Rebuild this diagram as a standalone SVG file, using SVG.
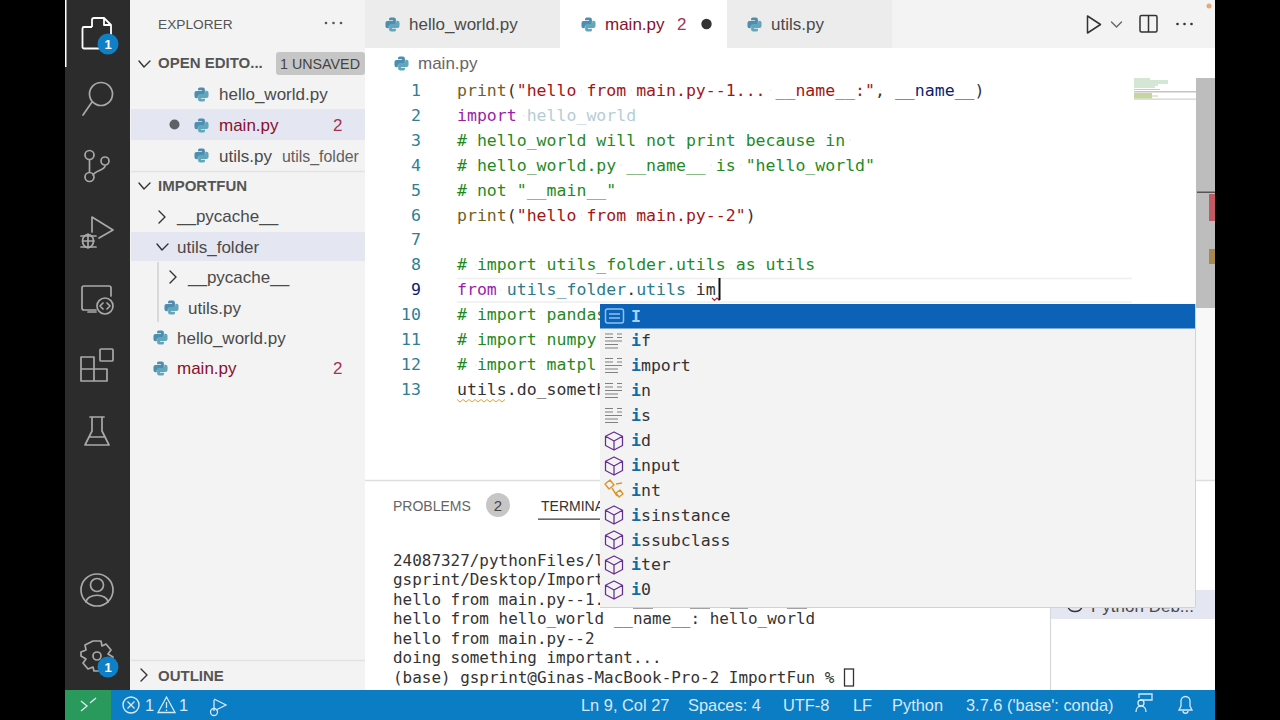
<svg xmlns="http://www.w3.org/2000/svg" width="1280" height="720" viewBox="0 0 1280 720">
<style>
text{white-space:pre}
.ui{font-family:"Liberation Sans",Arial,sans-serif;font-size:17px;fill:#4a4a4a}
.b{font-weight:700;font-size:15px;fill:#555}
.err{fill:#8a0f2e}
.num{fill:#a4324f}
.code{font-family:"DejaVu Sans Mono","Liberation Mono",monospace;font-size:16.55px;fill:#333}
.ln{text-anchor:end;fill:#2d7f95}
.cm{fill:#1f8a1f}
.str{fill:#a31515}
.fn{fill:#70601f}
.kw{fill:#9a1fa8}
.var{fill:#0a1f70}
.mod{fill:#2a7a8a}
.term{font-family:"DejaVu Sans Mono","Liberation Mono",monospace;font-size:15.95px;fill:#333}
.st{font-family:"Liberation Sans",Arial,sans-serif;font-size:16.4px;fill:#d6e9f6}
.i{stroke:#a9a9a9;stroke-width:1.7;fill:none;stroke-linecap:round;stroke-linejoin:round}
.d{stroke:#333;stroke-width:1.4;fill:none;stroke-linecap:round;stroke-linejoin:round}
.h{fill:#0f6cab;font-weight:700}
.badge{font-family:"Liberation Sans",Arial,sans-serif;font-size:13px;font-weight:700;fill:#fff;text-anchor:middle}
</style>
<defs>
<symbol id="py" viewBox="-8 -8 16 16" overflow="visible">
<path fill="#4c8db0" d="M-2-7.5h3.4a2.2 2.2 0 0 1 2.2 2.2V-1.4a1.9 1.9 0 0 1-1.9 1.9H-2a2 2 0 0 0-2 2V4H-5.3A2.2 2.2 0 0 1-7.5 1.8V-1.5A2.2 2.2 0 0 1-5.3-3.7H.6V-4.6H-3.7V-5.8A1.7 1.7 0 0 1-2-7.5Z"/>
<path fill="#62a6bb" d="M2 7.5H-1.4A2.2 2.2 0 0 1-3.6 5.3V1.4A1.9 1.9 0 0 1-1.7-.5H2a2 2 0 0 0 2-2V-4H5.3A2.2 2.2 0 0 1 7.5-1.8V1.5A2.2 2.2 0 0 1 5.3 3.7H-.6V4.6H3.7V5.8A1.7 1.7 0 0 1 2 7.5Z"/>
</symbol>
<g id="kwi" fill="none" stroke="#808080" stroke-width="1.1"><path d="M0-7H8M0-3.5H8M0 0H17M0 3.5H13M0 7H13M12-3.5H17M12-7H17"/></g>
<g id="cube" fill="none" stroke="#652d90" stroke-width="1.25" stroke-linejoin="round"><path d="M0-9 8.500-4.800V4.500L0 9-8.500 4.500V-4.800ZM-8.500-4.800 0 0 8.500-4.800M0 0V9"/></g>
</defs>

<rect id="bg" width="1280" height="720" fill="#000"/>
<g id="activity-bar">
<rect x="65" width="65" height="690" fill="#2c2c2c"/>
<rect x="65" width="1.5" height="67" fill="#fff"/>
<path d="M92 27V20a2 2 0 0 1 2-2H104L111 25V40a2 2 0 0 1-2 2H100M104 18V25H111M92 27H84a1.5 1.5 0 0 0-1.5 1.5V47a1.5 1.5 0 0 0 1.5 1.5H100" fill="none" stroke="#fff" stroke-width="1.8" stroke-linejoin="round"/>
<circle cx="108" cy="44" r="10.5" fill="#0f7fc6"/><text class="badge" x="108" y="49">1</text>
<path class="i" d="M83 115 92 102"/><circle class="i" cx="101" cy="94" r="11.5"/>
<path class="i" d="M89.500 160V172M105 166C105 170 96 170 93 175"/><circle class="i" cx="89.500" cy="155" r="4.500"/><circle class="i" cx="105" cy="161" r="4"/><circle class="i" cx="89.500" cy="177" r="4.500"/>
<path class="i" d="M92 232V217L113 230 99 238"/><path class="i" d="M81 236H96M81 247H96M83 241H94M88 234V248"/><ellipse class="i" cx="88" cy="241" rx="5.500" ry="6.500"/>
<path class="i" d="M96 310H84a2 2 0 0 1-2-2V288a2 2 0 0 1 2-2H109a2 2 0 0 1 2 2V296M88 312H96"/><circle class="i" cx="105" cy="306" r="8"/><path class="i" stroke-width="1.2" d="M103 303 100 306 103 309M107 303 110 306 107 309"/>
<path class="i" d="M81 357H94V381H81ZM81 369H107V381H94"/><rect class="i" x="100" y="349" width="13" height="12" rx="1"/>
<path class="i" d="M90 417H104M92 417V431L85 445H109L102 431V417M89 437H105"/>
<circle class="i" cx="97" cy="590" r="16"/><circle class="i" cx="97" cy="585" r="6.500"/><path class="i" d="M86 602C87 593 107 593 108 602"/>
<path class="i" d="M93 641H101L102 646 106 644 111 650 108 654 113 657 111 663 100 671H94L93 667 88 669 83 663 86 659 81 656V652L86 650 85 645 89 643Z"/><circle class="i" cx="97" cy="656" r="4"/>
<circle cx="108" cy="667" r="10.500" fill="#0f7fc6"/><text class="badge" x="108" y="672">1</text>
</g>

<g id="sidebar">
<rect x="130" width="235" height="690" fill="#f3f3f3"/>
<rect x="131" y="109" width="234" height="31" fill="#e4e6f1"/>
<rect x="131" y="232" width="234" height="29" fill="#e4e6f1"/>
<path d="M131 171.500H365M131 660.500H365" stroke="#e2e2e2" stroke-width="1.500"/>
<text class="ui" x="158" y="29" style="font-size:13.700px;fill:#555">EXPLORER</text>
<g fill="#555"><circle cx="326" cy="23" r="1.300"/><circle cx="333.500" cy="23" r="1.300"/><circle cx="341" cy="23" r="1.300"/></g>
<path class="d" d="M139 61 144 67 150 61"/>
<text class="ui b" x="158" y="68">OPEN EDITO...</text>
<rect x="276" y="52" width="89" height="23" rx="3" fill="#c6c6c6"/>
<text class="ui" x="280" y="69" style="font-size:14.300px;fill:#444">1 UNSAVED</text>
<use href="#py" x="194" y="87" width="15" height="15"/>
<text class="ui" x="219" y="100">hello_world.py</text>
<circle cx="174.500" cy="124.500" r="5" fill="#5f6166"/>
<use href="#py" x="194" y="118" width="15" height="15"/>
<text class="ui err" x="219" y="131">main.py</text>
<text class="ui num" x="333" y="131">2</text>
<use href="#py" x="194" y="148" width="15" height="15"/>
<text class="ui" x="219" y="161.500">utils.py</text>
<text class="ui" x="282" y="161.500" style="font-size:15.900px;fill:#5f5f5f">utils_folder</text>
<path class="d" d="M139 183 144 189 150 183"/>
<text class="ui b" x="158" y="191">IMPORTFUN</text>
<path class="d" d="M159 211 165 217 159 223"/>
<text class="ui" x="177" y="221.500">__pycache__</text>
<path class="d" d="M157 244 162 250 168 244"/>
<text class="ui" x="177" y="252.500">utils_folder</text>
<path d="M158 262V322" stroke="#c8c8c8" stroke-width="1.200"/>
<path class="d" d="M170 271 176 277 170 283"/>
<text class="ui" x="188" y="283">__pycache__</text>
<use href="#py" x="164" y="300" width="15" height="15"/>
<text class="ui" x="188" y="313.500">utils.py</text>
<use href="#py" x="153" y="330" width="15" height="15"/>
<text class="ui" x="177" y="344">hello_world.py</text>
<use href="#py" x="153" y="361" width="15" height="15"/>
<text class="ui err" x="177" y="374">main.py</text>
<text class="ui num" x="333" y="374">2</text>
<path class="d" d="M141 669 147 675 141 681"/>
<text class="ui b" x="158" y="680.500">OUTLINE</text>
</g>

<g id="tabs">
<rect x="365" width="850" height="48" fill="#f3f3f3"/>
<rect x="365" width="195" height="48" fill="#ececec"/>
<rect x="560" width="167" height="48" fill="#fff"/>
<rect x="727" width="165" height="48" fill="#ececec"/>
<use href="#py" x="385" y="17" width="15" height="15"/>
<text class="ui" x="409" y="30">hello_world.py</text>
<use href="#py" x="581" y="17" width="15" height="15"/>
<text class="ui err" x="605" y="30">main.py</text>
<text class="ui num" x="677" y="30">2</text>
<circle cx="706.500" cy="24" r="5.200" fill="#333"/>
<use href="#py" x="747" y="17" width="15" height="15"/>
<text class="ui" x="771" y="30">utils.py</text>
<path d="M1087.500 16V33L1100.500 24.500Z" fill="none" stroke="#333" stroke-width="1.500" stroke-linejoin="round"/>
<path class="d" d="M1111.500 22 1116.500 27 1121.500 22" style="stroke:#666"/>
<rect x="1140" y="15.500" width="17" height="16.500" rx="1.500" fill="none" stroke="#333" stroke-width="1.500"/><path d="M1148.500 15.500V32" stroke="#333" stroke-width="1.500"/>
<g fill="#333"><circle cx="1177.500" cy="24" r="1.300"/><circle cx="1184.500" cy="24" r="1.300"/><circle cx="1191.500" cy="24" r="1.300"/></g>
<circle cx="1209" cy="6" r="2.500" fill="#e8a878"/>
</g>

<g id="editor">
<rect x="365" y="48" width="850" height="432" fill="#fff"/>
<use href="#py" x="394" y="56" width="15" height="15"/>
<text class="ui" x="418" y="69" style="fill:#666">main.py</text>
<path d="M457 278.500H1132M457 302H1132" stroke="#eeeeee" stroke-width="1.500"/>
<g class="code">
<text class="code ln" x="421" y="96">1</text>
<text class="code ln" x="421" y="120.900">2</text>
<text class="code ln" x="421" y="145.800">3</text>
<text class="code ln" x="421" y="170.700">4</text>
<text class="code ln" x="421" y="195.600">5</text>
<text class="code ln" x="421" y="220.500">6</text>
<text class="code ln" x="421" y="245.400">7</text>
<text class="code ln" x="421" y="270.300">8</text>
<text class="code ln" x="421" y="295.200" style="fill:#0a1f70">9</text>
<text class="code ln" x="421" y="320.100">10</text>
<text class="code ln" x="421" y="345">11</text>
<text class="code ln" x="421" y="369.900">12</text>
<text class="code ln" x="421" y="394.800">13</text>
<text class="code" x="457" y="96"><tspan class="fn">print</tspan>(<tspan class="str">"hello from main.py--1... __name__:"</tspan>, <tspan class="var">__name__</tspan>)</text>
<text class="code" x="457" y="120.900"><tspan class="kw">import</tspan> <tspan style="fill:#b5cdd6">hello_world</tspan></text>
<text class="code cm" x="457" y="145.800"># hello_world will not print because in </text>
<text class="code cm" x="457" y="170.700"># hello_world.py __name__ is "hello_world"</text>
<text class="code cm" x="457" y="195.600"># not "__main__"</text>
<text class="code" x="457" y="220.500"><tspan class="fn">print</tspan>(<tspan class="str">"hello from main.py--2"</tspan>)</text>
<text class="code cm" x="457" y="270.300"># import utils_folder.utils as utils</text>
<text class="code" x="457" y="295.200"><tspan class="kw">from</tspan> <tspan class="mod">utils_folder</tspan>.<tspan class="mod">utils</tspan> im</text>
<text class="code cm" x="457" y="320.100"># import pandas</text>
<text class="code cm" x="457" y="345"># import numpy</text>
<text class="code cm" x="457" y="369.900"># import matpl</text>
<text class="code" x="457" y="394.800">utils.do_someth</text>
</g>
<path id="whitespace" fill="none" stroke="#cfcfcf" stroke-width="1.200" stroke-linecap="round" d="M581.500 90h.01M631.300 90h.01M770.700 90h.01M880.200 90h.01M523.700 115.500h.01M476 140h.01M596 140h.01M646 140h.01M685.700 140h.01M745.500 140h.01M825 140h.01M850 140h.01M476 165h.01M621 165h.01M711 165h.01M740.700 165h.01M476 190h.01M506 190h.01M581.500 215h.01M631.300 215h.01M476 265h.01M541.700 265h.01M731 265h.01M760.700 265h.01M501 290h.01M691 290h.01M476 315h.01M541.700 315h.01M476 340h.01M541.700 340h.01M476 365h.01M541.700 365h.01"/>
<path fill="none" stroke="#d9a53a" stroke-width="1" d="M457 399.500l3 2.500 3-2.500 3 2.500 3-2.500 3 2.500 3-2.500 3 2.500 3-2.500 3 2.500 3-2.500 3 2.500 3-2.500 3 2.500 3-2.500 3 2.500 3-2.500"/>
<path fill="none" stroke="#b3263f" stroke-width="1.200" d="M712 298l2.500 2.500 2.500-2.500 2.500 2.500"/>
<rect x="718.500" y="278" width="2" height="22" fill="#111"/>
<g id="minimap" stroke-width="1">
<path d="M1134 79H1150M1134 81H1168M1134 83H1168M1134 85H1158M1134 87H1155" stroke="#a9cfa9" fill="none"/>
<path d="M1134 89.500H1160M1134 96H1158M1134 98H1152" stroke="#c9d39a" fill="none"/>
<rect x="1134" y="91" width="62" height="1.500" fill="#c4c4c4"/><rect x="1134" y="98.500" width="62" height="1.200" fill="#cfcfcf"/>
<rect x="1134" y="93" width="18" height="5" fill="#c3d99b"/>
</g>
<rect x="1196" y="78" width="19" height="230" fill="#bdbdbd"/>
<rect x="1196" y="308" width="19" height="172" fill="#f8f8f8"/>
<rect x="1197" y="191.500" width="18" height="1.500" fill="#555"/>
<rect x="1209" y="194" width="6" height="27" fill="#c25a64"/>
<rect x="1209" y="249" width="6" height="15" fill="#a8884c"/>
</g>

<g id="panel">
<rect x="365" y="480" width="850" height="210" fill="#fff"/>
<path d="M365 480.500H1215" stroke="#dedede" stroke-width="1.500"/>
<path d="M1050.500 480V690" stroke="#d8d8d8" stroke-width="1.200"/>
<rect x="1051" y="590" width="164" height="29" fill="#e4e6f1"/>
<text class="ui" x="393" y="511" style="font-size:14px;fill:#666">PROBLEMS</text>
<circle cx="498" cy="505" r="12" fill="#c6c6c6"/>
<text class="ui" x="498" y="510.500" text-anchor="middle" style="font-size:15px;fill:#444">2</text>
<text class="ui" x="541" y="511" style="font-size:14px;fill:#333">TERMINAL</text>
<rect x="538" y="518.500" width="65" height="1.300" fill="#444"/>
<text class="term" x="393" y="565.500">24087327/pythonFiles/l</text>
<text class="term" x="393" y="585">gsprint/Desktop/Import</text>
<text class="term" x="393" y="604.500">hello from main.py--1.</text>
<path d="M633 608H653M690 608H710M730 608H748M787 608H807" stroke="#444" stroke-width="1.100" fill="none"/>
<text class="term" x="393" y="624">hello from hello_world __name__: hello_world</text>
<text class="term" x="393" y="643.500">hello from main.py--2</text>
<text class="term" x="393" y="663">doing something important...</text>
<text class="term" x="393" y="682.500">(base) gsprint@Ginas-MacBook-Pro-2 ImportFun %</text>
<rect x="844.500" y="669" width="9" height="17" fill="none" stroke="#333" stroke-width="1.300"/>
<path class="d" d="M1068 607C1070 613 1080 613 1082 607"/>
<text class="ui" x="1091" y="612">Python Deb...</text>
</g>

<g id="suggest">
<rect x="600" y="304" width="595" height="303" fill="#f3f3f3"/>
<path d="M600 607.500H1195M1195.500 304V607" stroke="#d2d2d2" stroke-width="1"/>
<rect x="600" y="304" width="595" height="24.500" fill="#0b62b6"/>
<rect x="605.500" y="309" width="18" height="14" rx="2" fill="none" stroke="#8cc4f0" stroke-width="1.500"/><path d="M609 314H620M609 318H620" stroke="#8cc4f0" stroke-width="1.300"/>
<use href="#kwi" x="605" y="341"/><use href="#kwi" x="605" y="365.500"/><use href="#kwi" x="605" y="390.500"/><use href="#kwi" x="605" y="415.500"/>
<use href="#cube" x="614" y="441"/><use href="#cube" x="614" y="466"/>
<path d="M605 484 610 480 614 485 609 489ZM616 493 620 490 623 494 619 497ZM616 484 622 483M612 488 617 496" fill="none" stroke="#d9982f" stroke-width="1.500" stroke-linejoin="round"/>
<use href="#cube" x="614" y="515"/><use href="#cube" x="614" y="540"/><use href="#cube" x="614" y="565"/><use href="#cube" x="614" y="590"/>
<text class="code" x="631" y="321.500" style="font-weight:700;fill:#a8d4f5">I</text>
<text class="code" x="631" y="346"><tspan class="h">i</tspan>f</text>
<text class="code" x="631" y="371"><tspan class="h">i</tspan>mport</text>
<text class="code" x="631" y="396"><tspan class="h">i</tspan>n</text>
<text class="code" x="631" y="421"><tspan class="h">i</tspan>s</text>
<text class="code" x="631" y="446"><tspan class="h">i</tspan>d</text>
<text class="code" x="631" y="471"><tspan class="h">i</tspan>nput</text>
<text class="code" x="631" y="495.500"><tspan class="h">i</tspan>nt</text>
<text class="code" x="631" y="520.500"><tspan class="h">i</tspan>sinstance</text>
<text class="code" x="631" y="545.500"><tspan class="h">i</tspan>ssubclass</text>
<text class="code" x="631" y="570"><tspan class="h">i</tspan>ter</text>
<text class="code" x="631" y="595"><tspan class="h">i</tspan>0</text>
</g>

<g id="statusbar">
<rect x="65" y="690" width="1150" height="30" fill="#0b7dc4"/>
<rect x="65" y="690" width="46" height="30" fill="#2a9a5c"/>
<path d="M81 701 87 706 81 711M96 698 90 703" fill="none" stroke="#d6e9f6" stroke-width="1.400"/>
<circle cx="131" cy="705" r="8" fill="none" stroke="#d6e9f6" stroke-width="1.400"/><path d="M127.500 701.500 134.500 708.500M134.500 701.500 127.500 708.500" stroke="#d6e9f6" stroke-width="1.300"/>
<text class="st" x="145" y="711">1</text>
<path d="M166.500 697 175 712.500H158ZM166.500 702V708M166.500 709.500V711" fill="none" stroke="#d6e9f6" stroke-width="1.300"/>
<text class="st" x="179" y="711">1</text>
<path d="M214 700V711M214 699 226 705 216 710" fill="none" stroke="#d6e9f6" stroke-width="1.300"/><circle cx="214" cy="712" r="3.500" fill="none" stroke="#d6e9f6" stroke-width="1.300"/>
<text class="st" x="581" y="711">Ln 9, Col 27</text>
<text class="st" x="688" y="711">Spaces: 4</text>
<text class="st" x="783" y="711">UTF-8</text>
<text class="st" x="853" y="711">LF</text>
<text class="st" x="892" y="711">Python</text>
<text class="st" x="966" y="711">3.7.6 ('base': conda)</text>
<path d="M1140 700H1152V694H1139V698M1136 712C1136 704 1146 704 1146 712" fill="none" stroke="#d6e9f6" stroke-width="1.300"/><circle cx="1141" cy="703" r="3" fill="none" stroke="#d6e9f6" stroke-width="1.300"/>
<path d="M1179 710H1192L1190 706V701A4.500 4.500 0 0 0 1181 701V706ZM1183 711C1183 714 1188 714 1188 711" fill="none" stroke="#d6e9f6" stroke-width="1.300"/>
</g>
</svg>
